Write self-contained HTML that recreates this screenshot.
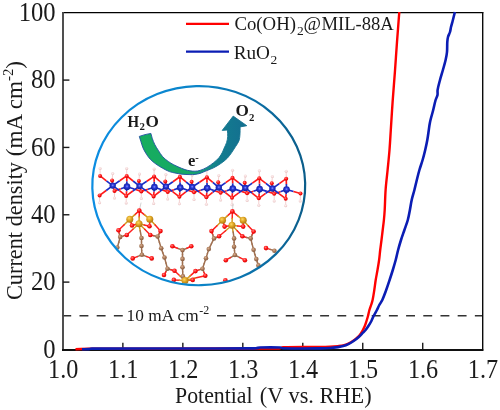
<!DOCTYPE html>
<html><head><meta charset="utf-8"><style>
html,body{margin:0;padding:0;background:#fff;width:500px;height:410px;overflow:hidden}
svg{display:block;will-change:transform}
text{font-family:"Liberation Serif",serif;fill:#1a1a1a}
</style></head><body>
<svg width="500" height="410" viewBox="0 0 500 410">
<rect width="500" height="410" fill="#fff"/>
<defs><linearGradient id="eg" x1="92" y1="0" x2="305" y2="0" gradientUnits="userSpaceOnUse"><stop offset="0" stop-color="#0c8de2"/><stop offset="0.5" stop-color="#0a84c8"/><stop offset="1" stop-color="#0b5d8a"/></linearGradient><linearGradient id="ag" x1="140" y1="0" x2="247" y2="0" gradientUnits="userSpaceOnUse"><stop offset="0" stop-color="#16ad5e"/><stop offset="0.45" stop-color="#16a866"/><stop offset="0.6" stop-color="#139580"/><stop offset="0.75" stop-color="#127c8f"/><stop offset="1" stop-color="#146e90"/></linearGradient><radialGradient id="gco" cx="0.5" cy="0.45" r="0.6"><stop offset="0" stop-color="#8890ff"/><stop offset="0.35" stop-color="#2a3ad8"/><stop offset="1" stop-color="#0c1890"/></radialGradient><radialGradient id="gfe" cx="0.4" cy="0.35" r="0.7"><stop offset="0" stop-color="#ffd860"/><stop offset="0.5" stop-color="#d9a020"/><stop offset="1" stop-color="#a87010"/></radialGradient><radialGradient id="go" cx="0.4" cy="0.35" r="0.7"><stop offset="0" stop-color="#ff8080"/><stop offset="0.5" stop-color="#ff1414"/><stop offset="1" stop-color="#d00000"/></radialGradient><radialGradient id="gc" cx="0.4" cy="0.35" r="0.7"><stop offset="0" stop-color="#d8b090"/><stop offset="0.5" stop-color="#a87858"/><stop offset="1" stop-color="#80573c"/></radialGradient><radialGradient id="gh" cx="0.45" cy="0.4" r="0.7"><stop offset="0" stop-color="#fff4f4"/><stop offset="0.6" stop-color="#f2d4d4"/><stop offset="1" stop-color="#dcb4b4"/></radialGradient><clipPath id="ec"><ellipse cx="198.75" cy="185.65" rx="105.95" ry="99.1" transform="rotate(-1.46 198.75 185.65)"/></clipPath></defs>
<g clip-path="url(#ec)">
<g stroke-width="1.65"><line x1="126.7" y1="175.9" x2="126.7" y2="168.4" stroke="#f4d0d0" stroke-width="1"/><line x1="126.2" y1="195.9" x2="126.2" y2="202.9" stroke="#f4d0d0" stroke-width="1"/><line x1="154.1" y1="176.4" x2="154.1" y2="168.9" stroke="#f4d0d0" stroke-width="1"/><line x1="153.6" y1="196.4" x2="153.6" y2="203.4" stroke="#f4d0d0" stroke-width="1"/><line x1="179.9" y1="176.8" x2="179.9" y2="169.3" stroke="#f4d0d0" stroke-width="1"/><line x1="179.4" y1="196.8" x2="179.4" y2="203.8" stroke="#f4d0d0" stroke-width="1"/><line x1="206.9" y1="177.3" x2="206.9" y2="169.8" stroke="#f4d0d0" stroke-width="1"/><line x1="206.4" y1="197.3" x2="206.4" y2="204.3" stroke="#f4d0d0" stroke-width="1"/><line x1="232.5" y1="177.8" x2="232.5" y2="170.3" stroke="#f4d0d0" stroke-width="1"/><line x1="232.0" y1="197.8" x2="232.0" y2="204.8" stroke="#f4d0d0" stroke-width="1"/><line x1="259.3" y1="178.3" x2="259.3" y2="170.8" stroke="#f4d0d0" stroke-width="1"/><line x1="258.8" y1="198.3" x2="258.8" y2="205.3" stroke="#f4d0d0" stroke-width="1"/><line x1="286.2" y1="178.7" x2="286.2" y2="171.2" stroke="#f4d0d0" stroke-width="1"/><line x1="285.7" y1="198.7" x2="285.7" y2="205.7" stroke="#f4d0d0" stroke-width="1"/><line x1="112.1" y1="180.4" x2="112.7" y2="173.6" stroke="#f4d0d0" stroke-width="1"/><line x1="114.5" y1="190.9" x2="114.5" y2="198.1" stroke="#f4d0d0" stroke-width="1"/><line x1="138.9" y1="180.9" x2="139.5" y2="174.1" stroke="#f4d0d0" stroke-width="1"/><line x1="141.3" y1="191.4" x2="141.3" y2="198.6" stroke="#f4d0d0" stroke-width="1"/><line x1="165.3" y1="181.4" x2="165.9" y2="174.6" stroke="#f4d0d0" stroke-width="1"/><line x1="167.7" y1="191.9" x2="167.7" y2="199.1" stroke="#f4d0d0" stroke-width="1"/><line x1="191.6" y1="181.8" x2="192.2" y2="175.0" stroke="#f4d0d0" stroke-width="1"/><line x1="194.0" y1="192.3" x2="194.0" y2="199.5" stroke="#f4d0d0" stroke-width="1"/><line x1="218.2" y1="182.3" x2="218.8" y2="175.5" stroke="#f4d0d0" stroke-width="1"/><line x1="220.6" y1="192.8" x2="220.6" y2="200.0" stroke="#f4d0d0" stroke-width="1"/><line x1="244.7" y1="182.8" x2="245.3" y2="176.0" stroke="#f4d0d0" stroke-width="1"/><line x1="247.1" y1="193.3" x2="247.1" y2="200.5" stroke="#f4d0d0" stroke-width="1"/><line x1="271.8" y1="183.3" x2="272.4" y2="176.5" stroke="#f4d0d0" stroke-width="1"/><line x1="274.2" y1="193.8" x2="274.2" y2="201.0" stroke="#f4d0d0" stroke-width="1"/><line x1="100.1" y1="175.9" x2="100.1" y2="168.5" stroke="#f4d0d0" stroke-width="1"/><line x1="99.6" y1="195.4" x2="99.6" y2="202.7" stroke="#f4d0d0" stroke-width="1"/><line x1="300.5" y1="193.5" x2="300.2" y2="201.0" stroke="#f4d0d0" stroke-width="1"/><line x1="127.0" y1="186.7" x2="126.8" y2="181.3" stroke="#1a2cc8"/><line x1="126.8" y1="181.3" x2="126.7" y2="175.9" stroke="#ff1a1a"/><line x1="127.0" y1="186.7" x2="126.6" y2="191.3" stroke="#1a2cc8"/><line x1="126.6" y1="191.3" x2="126.2" y2="195.9" stroke="#ff1a1a"/><line x1="127.0" y1="186.7" x2="120.8" y2="188.8" stroke="#1a2cc8"/><line x1="120.8" y1="188.8" x2="114.5" y2="190.9" stroke="#ff1a1a"/><line x1="127.0" y1="186.7" x2="134.2" y2="189.0" stroke="#1a2cc8"/><line x1="134.2" y1="189.0" x2="141.3" y2="191.4" stroke="#ff1a1a"/><line x1="154.4" y1="187.2" x2="154.2" y2="181.8" stroke="#1a2cc8"/><line x1="154.2" y1="181.8" x2="154.1" y2="176.4" stroke="#ff1a1a"/><line x1="154.4" y1="187.2" x2="154.0" y2="191.8" stroke="#1a2cc8"/><line x1="154.0" y1="191.8" x2="153.6" y2="196.4" stroke="#ff1a1a"/><line x1="154.4" y1="187.2" x2="147.9" y2="189.3" stroke="#1a2cc8"/><line x1="147.9" y1="189.3" x2="141.3" y2="191.4" stroke="#ff1a1a"/><line x1="154.4" y1="187.2" x2="161.1" y2="189.5" stroke="#1a2cc8"/><line x1="161.1" y1="189.5" x2="167.7" y2="191.9" stroke="#ff1a1a"/><line x1="180.2" y1="187.6" x2="180.0" y2="182.2" stroke="#1a2cc8"/><line x1="180.0" y1="182.2" x2="179.9" y2="176.8" stroke="#ff1a1a"/><line x1="180.2" y1="187.6" x2="179.8" y2="192.2" stroke="#1a2cc8"/><line x1="179.8" y1="192.2" x2="179.4" y2="196.8" stroke="#ff1a1a"/><line x1="180.2" y1="187.6" x2="173.9" y2="189.7" stroke="#1a2cc8"/><line x1="173.9" y1="189.7" x2="167.7" y2="191.9" stroke="#ff1a1a"/><line x1="180.2" y1="187.6" x2="187.1" y2="190.0" stroke="#1a2cc8"/><line x1="187.1" y1="190.0" x2="194.0" y2="192.3" stroke="#ff1a1a"/><line x1="207.2" y1="188.1" x2="207.0" y2="182.7" stroke="#1a2cc8"/><line x1="207.0" y1="182.7" x2="206.9" y2="177.3" stroke="#ff1a1a"/><line x1="207.2" y1="188.1" x2="206.8" y2="192.7" stroke="#1a2cc8"/><line x1="206.8" y1="192.7" x2="206.4" y2="197.3" stroke="#ff1a1a"/><line x1="207.2" y1="188.1" x2="200.6" y2="190.2" stroke="#1a2cc8"/><line x1="200.6" y1="190.2" x2="194.0" y2="192.3" stroke="#ff1a1a"/><line x1="207.2" y1="188.1" x2="213.9" y2="190.5" stroke="#1a2cc8"/><line x1="213.9" y1="190.5" x2="220.6" y2="192.8" stroke="#ff1a1a"/><line x1="232.8" y1="188.6" x2="232.7" y2="183.2" stroke="#1a2cc8"/><line x1="232.7" y1="183.2" x2="232.5" y2="177.8" stroke="#ff1a1a"/><line x1="232.8" y1="188.6" x2="232.4" y2="193.2" stroke="#1a2cc8"/><line x1="232.4" y1="193.2" x2="232.0" y2="197.8" stroke="#ff1a1a"/><line x1="232.8" y1="188.6" x2="226.7" y2="190.7" stroke="#1a2cc8"/><line x1="226.7" y1="190.7" x2="220.6" y2="192.8" stroke="#ff1a1a"/><line x1="232.8" y1="188.6" x2="240.0" y2="190.9" stroke="#1a2cc8"/><line x1="240.0" y1="190.9" x2="247.1" y2="193.3" stroke="#ff1a1a"/><line x1="259.6" y1="189.1" x2="259.5" y2="183.7" stroke="#1a2cc8"/><line x1="259.5" y1="183.7" x2="259.3" y2="178.3" stroke="#ff1a1a"/><line x1="259.6" y1="189.1" x2="259.2" y2="193.7" stroke="#1a2cc8"/><line x1="259.2" y1="193.7" x2="258.8" y2="198.3" stroke="#ff1a1a"/><line x1="259.6" y1="189.1" x2="253.4" y2="191.2" stroke="#1a2cc8"/><line x1="253.4" y1="191.2" x2="247.1" y2="193.3" stroke="#ff1a1a"/><line x1="259.6" y1="189.1" x2="266.9" y2="191.4" stroke="#1a2cc8"/><line x1="266.9" y1="191.4" x2="274.2" y2="193.8" stroke="#ff1a1a"/><line x1="286.5" y1="189.5" x2="286.4" y2="184.1" stroke="#1a2cc8"/><line x1="286.4" y1="184.1" x2="286.2" y2="178.7" stroke="#ff1a1a"/><line x1="286.5" y1="189.5" x2="286.1" y2="194.1" stroke="#1a2cc8"/><line x1="286.1" y1="194.1" x2="285.7" y2="198.7" stroke="#ff1a1a"/><line x1="286.5" y1="189.5" x2="280.4" y2="191.7" stroke="#1a2cc8"/><line x1="280.4" y1="191.7" x2="274.2" y2="193.8" stroke="#ff1a1a"/><line x1="286.5" y1="189.5" x2="293.5" y2="191.5" stroke="#1a2cc8"/><line x1="293.5" y1="191.5" x2="300.5" y2="193.5" stroke="#ff1a1a"/><line x1="112.7" y1="185.6" x2="119.7" y2="180.7" stroke="#1a2cc8"/><line x1="119.7" y1="180.7" x2="126.7" y2="175.9" stroke="#ff1a1a"/><line x1="112.7" y1="185.6" x2="119.5" y2="190.7" stroke="#1a2cc8"/><line x1="119.5" y1="190.7" x2="126.2" y2="195.9" stroke="#ff1a1a"/><line x1="112.7" y1="185.6" x2="112.4" y2="183.0" stroke="#1a2cc8"/><line x1="112.4" y1="183.0" x2="112.1" y2="180.4" stroke="#ff1a1a"/><line x1="112.7" y1="185.6" x2="113.6" y2="188.3" stroke="#1a2cc8"/><line x1="113.6" y1="188.3" x2="114.5" y2="190.9" stroke="#ff1a1a"/><line x1="112.7" y1="185.6" x2="106.4" y2="180.8" stroke="#1a2cc8"/><line x1="106.4" y1="180.8" x2="100.1" y2="175.9" stroke="#ff1a1a"/><line x1="112.7" y1="185.6" x2="106.2" y2="190.5" stroke="#1a2cc8"/><line x1="106.2" y1="190.5" x2="99.6" y2="195.4" stroke="#ff1a1a"/><line x1="139.5" y1="186.1" x2="133.1" y2="181.0" stroke="#1a2cc8"/><line x1="133.1" y1="181.0" x2="126.7" y2="175.9" stroke="#ff1a1a"/><line x1="139.5" y1="186.1" x2="132.8" y2="191.0" stroke="#1a2cc8"/><line x1="132.8" y1="191.0" x2="126.2" y2="195.9" stroke="#ff1a1a"/><line x1="139.5" y1="186.1" x2="146.8" y2="181.2" stroke="#1a2cc8"/><line x1="146.8" y1="181.2" x2="154.1" y2="176.4" stroke="#ff1a1a"/><line x1="139.5" y1="186.1" x2="146.6" y2="191.2" stroke="#1a2cc8"/><line x1="146.6" y1="191.2" x2="153.6" y2="196.4" stroke="#ff1a1a"/><line x1="139.5" y1="186.1" x2="139.2" y2="183.5" stroke="#1a2cc8"/><line x1="139.2" y1="183.5" x2="138.9" y2="180.9" stroke="#ff1a1a"/><line x1="139.5" y1="186.1" x2="140.4" y2="188.7" stroke="#1a2cc8"/><line x1="140.4" y1="188.7" x2="141.3" y2="191.4" stroke="#ff1a1a"/><line x1="165.9" y1="186.6" x2="160.0" y2="181.5" stroke="#1a2cc8"/><line x1="160.0" y1="181.5" x2="154.1" y2="176.4" stroke="#ff1a1a"/><line x1="165.9" y1="186.6" x2="159.8" y2="191.5" stroke="#1a2cc8"/><line x1="159.8" y1="191.5" x2="153.6" y2="196.4" stroke="#ff1a1a"/><line x1="165.9" y1="186.6" x2="172.9" y2="181.7" stroke="#1a2cc8"/><line x1="172.9" y1="181.7" x2="179.9" y2="176.8" stroke="#ff1a1a"/><line x1="165.9" y1="186.6" x2="172.6" y2="191.7" stroke="#1a2cc8"/><line x1="172.6" y1="191.7" x2="179.4" y2="196.8" stroke="#ff1a1a"/><line x1="165.9" y1="186.6" x2="165.6" y2="184.0" stroke="#1a2cc8"/><line x1="165.6" y1="184.0" x2="165.3" y2="181.4" stroke="#ff1a1a"/><line x1="165.9" y1="186.6" x2="166.8" y2="189.2" stroke="#1a2cc8"/><line x1="166.8" y1="189.2" x2="167.7" y2="191.9" stroke="#ff1a1a"/><line x1="192.2" y1="187.0" x2="186.0" y2="181.9" stroke="#1a2cc8"/><line x1="186.0" y1="181.9" x2="179.9" y2="176.8" stroke="#ff1a1a"/><line x1="192.2" y1="187.0" x2="185.8" y2="191.9" stroke="#1a2cc8"/><line x1="185.8" y1="191.9" x2="179.4" y2="196.8" stroke="#ff1a1a"/><line x1="192.2" y1="187.0" x2="199.5" y2="182.2" stroke="#1a2cc8"/><line x1="199.5" y1="182.2" x2="206.9" y2="177.3" stroke="#ff1a1a"/><line x1="192.2" y1="187.0" x2="199.3" y2="192.2" stroke="#1a2cc8"/><line x1="199.3" y1="192.2" x2="206.4" y2="197.3" stroke="#ff1a1a"/><line x1="192.2" y1="187.0" x2="191.9" y2="184.4" stroke="#1a2cc8"/><line x1="191.9" y1="184.4" x2="191.6" y2="181.8" stroke="#ff1a1a"/><line x1="192.2" y1="187.0" x2="193.1" y2="189.7" stroke="#1a2cc8"/><line x1="193.1" y1="189.7" x2="194.0" y2="192.3" stroke="#ff1a1a"/><line x1="218.8" y1="187.5" x2="212.8" y2="182.4" stroke="#1a2cc8"/><line x1="212.8" y1="182.4" x2="206.9" y2="177.3" stroke="#ff1a1a"/><line x1="218.8" y1="187.5" x2="212.6" y2="192.4" stroke="#1a2cc8"/><line x1="212.6" y1="192.4" x2="206.4" y2="197.3" stroke="#ff1a1a"/><line x1="218.8" y1="187.5" x2="225.7" y2="182.6" stroke="#1a2cc8"/><line x1="225.7" y1="182.6" x2="232.5" y2="177.8" stroke="#ff1a1a"/><line x1="218.8" y1="187.5" x2="225.4" y2="192.6" stroke="#1a2cc8"/><line x1="225.4" y1="192.6" x2="232.0" y2="197.8" stroke="#ff1a1a"/><line x1="218.8" y1="187.5" x2="218.5" y2="184.9" stroke="#1a2cc8"/><line x1="218.5" y1="184.9" x2="218.2" y2="182.3" stroke="#ff1a1a"/><line x1="218.8" y1="187.5" x2="219.7" y2="190.2" stroke="#1a2cc8"/><line x1="219.7" y1="190.2" x2="220.6" y2="192.8" stroke="#ff1a1a"/><line x1="245.3" y1="188.0" x2="238.9" y2="182.9" stroke="#1a2cc8"/><line x1="238.9" y1="182.9" x2="232.5" y2="177.8" stroke="#ff1a1a"/><line x1="245.3" y1="188.0" x2="238.7" y2="192.9" stroke="#1a2cc8"/><line x1="238.7" y1="192.9" x2="232.0" y2="197.8" stroke="#ff1a1a"/><line x1="245.3" y1="188.0" x2="252.3" y2="183.1" stroke="#1a2cc8"/><line x1="252.3" y1="183.1" x2="259.3" y2="178.3" stroke="#ff1a1a"/><line x1="245.3" y1="188.0" x2="252.1" y2="193.1" stroke="#1a2cc8"/><line x1="252.1" y1="193.1" x2="258.8" y2="198.3" stroke="#ff1a1a"/><line x1="245.3" y1="188.0" x2="245.0" y2="185.4" stroke="#1a2cc8"/><line x1="245.0" y1="185.4" x2="244.7" y2="182.8" stroke="#ff1a1a"/><line x1="245.3" y1="188.0" x2="246.2" y2="190.6" stroke="#1a2cc8"/><line x1="246.2" y1="190.6" x2="247.1" y2="193.3" stroke="#ff1a1a"/><line x1="272.4" y1="188.5" x2="265.9" y2="183.4" stroke="#1a2cc8"/><line x1="265.9" y1="183.4" x2="259.3" y2="178.3" stroke="#ff1a1a"/><line x1="272.4" y1="188.5" x2="265.6" y2="193.4" stroke="#1a2cc8"/><line x1="265.6" y1="193.4" x2="258.8" y2="198.3" stroke="#ff1a1a"/><line x1="272.4" y1="188.5" x2="279.3" y2="183.6" stroke="#1a2cc8"/><line x1="279.3" y1="183.6" x2="286.2" y2="178.7" stroke="#ff1a1a"/><line x1="272.4" y1="188.5" x2="279.0" y2="193.6" stroke="#1a2cc8"/><line x1="279.0" y1="193.6" x2="285.7" y2="198.7" stroke="#ff1a1a"/><line x1="272.4" y1="188.5" x2="272.1" y2="185.9" stroke="#1a2cc8"/><line x1="272.1" y1="185.9" x2="271.8" y2="183.3" stroke="#ff1a1a"/><line x1="272.4" y1="188.5" x2="273.3" y2="191.1" stroke="#1a2cc8"/><line x1="273.3" y1="191.1" x2="274.2" y2="193.8" stroke="#ff1a1a"/></g>
<g fill="url(#gh)"><circle cx="126.7" cy="168.4" r="1.5"/><circle cx="126.2" cy="202.9" r="1.5"/><circle cx="154.1" cy="168.9" r="1.5"/><circle cx="153.6" cy="203.4" r="1.5"/><circle cx="179.9" cy="169.3" r="1.5"/><circle cx="179.4" cy="203.8" r="1.5"/><circle cx="206.9" cy="169.8" r="1.5"/><circle cx="206.4" cy="204.3" r="1.5"/><circle cx="232.5" cy="170.3" r="1.5"/><circle cx="232.0" cy="204.8" r="1.5"/><circle cx="259.3" cy="170.8" r="1.5"/><circle cx="258.8" cy="205.3" r="1.5"/><circle cx="286.2" cy="171.2" r="1.5"/><circle cx="285.7" cy="205.7" r="1.5"/><circle cx="112.7" cy="173.6" r="1.5"/><circle cx="114.5" cy="198.1" r="1.5"/><circle cx="139.5" cy="174.1" r="1.5"/><circle cx="141.3" cy="198.6" r="1.5"/><circle cx="165.9" cy="174.6" r="1.5"/><circle cx="167.7" cy="199.1" r="1.5"/><circle cx="192.2" cy="175.0" r="1.5"/><circle cx="194.0" cy="199.5" r="1.5"/><circle cx="218.8" cy="175.5" r="1.5"/><circle cx="220.6" cy="200.0" r="1.5"/><circle cx="245.3" cy="176.0" r="1.5"/><circle cx="247.1" cy="200.5" r="1.5"/><circle cx="272.4" cy="176.5" r="1.5"/><circle cx="274.2" cy="201.0" r="1.5"/><circle cx="100.1" cy="168.5" r="1.5"/><circle cx="99.6" cy="202.7" r="1.5"/><circle cx="300.2" cy="201.0" r="1.5"/></g>
<g fill="url(#go)"><circle cx="126.7" cy="175.9" r="2.0"/><circle cx="126.2" cy="195.9" r="2.0"/><circle cx="154.1" cy="176.4" r="2.0"/><circle cx="153.6" cy="196.4" r="2.0"/><circle cx="179.9" cy="176.8" r="2.0"/><circle cx="179.4" cy="196.8" r="2.0"/><circle cx="206.9" cy="177.3" r="2.0"/><circle cx="206.4" cy="197.3" r="2.0"/><circle cx="232.5" cy="177.8" r="2.0"/><circle cx="232.0" cy="197.8" r="2.0"/><circle cx="259.3" cy="178.3" r="2.0"/><circle cx="258.8" cy="198.3" r="2.0"/><circle cx="286.2" cy="178.7" r="2.0"/><circle cx="285.7" cy="198.7" r="2.0"/><circle cx="112.1" cy="180.4" r="2.0"/><circle cx="114.5" cy="190.9" r="2.0"/><circle cx="138.9" cy="180.9" r="2.0"/><circle cx="141.3" cy="191.4" r="2.0"/><circle cx="165.3" cy="181.4" r="2.0"/><circle cx="167.7" cy="191.9" r="2.0"/><circle cx="191.6" cy="181.8" r="2.0"/><circle cx="194.0" cy="192.3" r="2.0"/><circle cx="218.2" cy="182.3" r="2.0"/><circle cx="220.6" cy="192.8" r="2.0"/><circle cx="244.7" cy="182.8" r="2.0"/><circle cx="247.1" cy="193.3" r="2.0"/><circle cx="271.8" cy="183.3" r="2.0"/><circle cx="274.2" cy="193.8" r="2.0"/><circle cx="100.1" cy="175.9" r="2.0"/><circle cx="99.6" cy="195.4" r="2.0"/><circle cx="300.5" cy="193.5" r="2.0"/></g>
<g fill="url(#gco)"><circle cx="127.0" cy="186.7" r="3.35"/><circle cx="154.4" cy="187.2" r="3.35"/><circle cx="180.2" cy="187.6" r="3.35"/><circle cx="207.2" cy="188.1" r="3.35"/><circle cx="232.8" cy="188.6" r="3.35"/><circle cx="259.6" cy="189.1" r="3.35"/><circle cx="286.5" cy="189.5" r="3.35"/><circle cx="112.7" cy="185.6" r="3.15"/><circle cx="139.5" cy="186.1" r="3.15"/><circle cx="165.9" cy="186.6" r="3.15"/><circle cx="192.2" cy="187.0" r="3.15"/><circle cx="218.8" cy="187.5" r="3.15"/><circle cx="245.3" cy="188.0" r="3.15"/><circle cx="272.4" cy="188.5" r="3.15"/></g>
<g stroke-width="1.5" stroke-linecap="round"><line x1="139.3" y1="210.6" x2="134.6" y2="214.9" stroke="#ff2020"/><line x1="134.6" y1="214.9" x2="129.8" y2="219.2" stroke="#d49a20"/><line x1="139.3" y1="210.6" x2="139.2" y2="217.1" stroke="#ff2020"/><line x1="139.2" y1="217.1" x2="139.0" y2="223.7" stroke="#d49a20"/><line x1="139.3" y1="210.6" x2="144.6" y2="214.9" stroke="#ff2020"/><line x1="144.6" y1="214.9" x2="149.8" y2="219.2" stroke="#d49a20"/><line x1="129.8" y1="219.2" x2="124.2" y2="224.7" stroke="#d49a20"/><line x1="124.2" y1="224.7" x2="118.5" y2="230.2" stroke="#ff2020"/><line x1="139.0" y1="223.7" x2="132.9" y2="229.3" stroke="#d49a20"/><line x1="132.9" y1="229.3" x2="126.8" y2="235.0" stroke="#ff2020"/><line x1="129.8" y1="219.2" x2="130.9" y2="222.3" stroke="#d49a20"/><line x1="130.9" y1="222.3" x2="132.0" y2="225.5" stroke="#ff2020"/><line x1="139.0" y1="223.7" x2="135.5" y2="224.6" stroke="#d49a20"/><line x1="135.5" y1="224.6" x2="132.0" y2="225.5" stroke="#ff2020"/><line x1="149.8" y1="219.2" x2="149.7" y2="222.7" stroke="#d49a20"/><line x1="149.7" y1="222.7" x2="149.5" y2="226.2" stroke="#ff2020"/><line x1="139.0" y1="223.7" x2="144.2" y2="224.9" stroke="#d49a20"/><line x1="144.2" y1="224.9" x2="149.5" y2="226.2" stroke="#ff2020"/><line x1="139.0" y1="223.7" x2="144.7" y2="229.3" stroke="#d49a20"/><line x1="144.7" y1="229.3" x2="150.3" y2="235.0" stroke="#ff2020"/><line x1="149.8" y1="219.2" x2="155.2" y2="225.1" stroke="#d49a20"/><line x1="155.2" y1="225.1" x2="160.5" y2="231.1" stroke="#ff2020"/><line x1="118.5" y1="230.2" x2="119.3" y2="233.6" stroke="#ff2020"/><line x1="119.3" y1="233.6" x2="120.2" y2="236.9" stroke="#a07050"/><line x1="126.8" y1="235.0" x2="123.5" y2="235.9" stroke="#ff2020"/><line x1="123.5" y1="235.9" x2="120.2" y2="236.9" stroke="#a07050"/><line x1="120.2" y1="236.9" x2="118.8" y2="242.2" stroke="#a07050"/><line x1="118.8" y1="242.2" x2="117.3" y2="247.5" stroke="#a07050"/><line x1="139.0" y1="223.7" x2="140.2" y2="230.8" stroke="#d49a20"/><line x1="140.2" y1="230.8" x2="141.5" y2="238.0" stroke="#a07050"/><line x1="141.5" y1="238.0" x2="141.5" y2="242.0" stroke="#a07050"/><line x1="141.5" y1="242.0" x2="141.5" y2="246.0" stroke="#a07050"/><line x1="141.5" y1="246.0" x2="141.7" y2="250.4" stroke="#a07050"/><line x1="141.7" y1="250.4" x2="141.9" y2="254.8" stroke="#a07050"/><line x1="141.9" y1="254.8" x2="137.3" y2="256.6" stroke="#a07050"/><line x1="137.3" y1="256.6" x2="132.7" y2="258.4" stroke="#ff2020"/><line x1="141.9" y1="254.8" x2="146.8" y2="256.6" stroke="#a07050"/><line x1="146.8" y1="256.6" x2="151.7" y2="258.4" stroke="#ff2020"/><line x1="150.3" y1="235.0" x2="153.9" y2="235.8" stroke="#ff2020"/><line x1="153.9" y1="235.8" x2="157.6" y2="236.5" stroke="#a07050"/><line x1="160.5" y1="231.1" x2="159.1" y2="233.8" stroke="#ff2020"/><line x1="159.1" y1="233.8" x2="157.6" y2="236.5" stroke="#a07050"/><line x1="157.6" y1="236.5" x2="159.4" y2="242.3" stroke="#a07050"/><line x1="159.4" y1="242.3" x2="161.2" y2="248.2" stroke="#a07050"/><line x1="161.2" y1="248.2" x2="162.8" y2="252.8" stroke="#a07050"/><line x1="162.8" y1="252.8" x2="164.5" y2="257.5" stroke="#a07050"/><line x1="164.5" y1="257.5" x2="166.0" y2="263.1" stroke="#a07050"/><line x1="166.0" y1="263.1" x2="167.5" y2="268.7" stroke="#a07050"/><line x1="167.5" y1="268.7" x2="171.0" y2="269.8" stroke="#a07050"/><line x1="171.0" y1="269.8" x2="174.5" y2="270.8" stroke="#ff2020"/><line x1="167.5" y1="268.7" x2="165.8" y2="271.9" stroke="#a07050"/><line x1="165.8" y1="271.9" x2="164.0" y2="275.0" stroke="#ff2020"/><line x1="174.5" y1="270.8" x2="179.8" y2="275.7" stroke="#ff2020"/><line x1="179.8" y1="275.7" x2="185.0" y2="280.6" stroke="#d49a20"/><line x1="173.8" y1="279.9" x2="179.4" y2="280.2" stroke="#ff2020"/><line x1="179.4" y1="280.2" x2="185.0" y2="280.6" stroke="#d49a20"/><line x1="182.5" y1="250.1" x2="177.4" y2="248.2" stroke="#a07050"/><line x1="177.4" y1="248.2" x2="172.4" y2="246.3" stroke="#ff2020"/><line x1="182.5" y1="250.1" x2="186.9" y2="248.2" stroke="#a07050"/><line x1="186.9" y1="248.2" x2="191.3" y2="246.3" stroke="#ff2020"/><line x1="182.5" y1="250.1" x2="182.5" y2="254.5" stroke="#a07050"/><line x1="182.5" y1="254.5" x2="182.5" y2="258.9" stroke="#a07050"/><line x1="182.5" y1="258.9" x2="182.5" y2="263.1" stroke="#a07050"/><line x1="182.5" y1="263.1" x2="182.5" y2="267.3" stroke="#a07050"/><line x1="182.5" y1="267.3" x2="182.7" y2="271.9" stroke="#a07050"/><line x1="182.7" y1="271.9" x2="182.9" y2="276.4" stroke="#a07050"/><line x1="182.9" y1="276.4" x2="183.9" y2="278.5" stroke="#a07050"/><line x1="183.9" y1="278.5" x2="185.0" y2="280.6" stroke="#d49a20"/><line x1="202.5" y1="268.7" x2="199.0" y2="269.9" stroke="#a07050"/><line x1="199.0" y1="269.9" x2="195.5" y2="271.1" stroke="#ff2020"/><line x1="202.5" y1="268.7" x2="203.9" y2="272.2" stroke="#a07050"/><line x1="203.9" y1="272.2" x2="205.3" y2="275.7" stroke="#ff2020"/><line x1="195.5" y1="271.1" x2="190.2" y2="275.9" stroke="#ff2020"/><line x1="190.2" y1="275.9" x2="185.0" y2="280.6" stroke="#d49a20"/><line x1="192.7" y1="279.9" x2="188.8" y2="280.2" stroke="#ff2020"/><line x1="188.8" y1="280.2" x2="185.0" y2="280.6" stroke="#d49a20"/><line x1="205.3" y1="275.7" x2="195.2" y2="278.1" stroke="#ff2020"/><line x1="195.2" y1="278.1" x2="185.0" y2="280.6" stroke="#d49a20"/><line x1="232.4" y1="211.4" x2="227.4" y2="215.9" stroke="#ff2020"/><line x1="227.4" y1="215.9" x2="222.5" y2="220.3" stroke="#d49a20"/><line x1="232.4" y1="211.4" x2="232.2" y2="218.4" stroke="#ff2020"/><line x1="232.2" y1="218.4" x2="232.0" y2="225.3" stroke="#d49a20"/><line x1="232.4" y1="211.4" x2="237.8" y2="215.9" stroke="#ff2020"/><line x1="237.8" y1="215.9" x2="243.2" y2="220.3" stroke="#d49a20"/><line x1="222.5" y1="220.3" x2="217.0" y2="225.7" stroke="#d49a20"/><line x1="217.0" y1="225.7" x2="211.5" y2="231.1" stroke="#ff2020"/><line x1="232.0" y1="225.3" x2="225.6" y2="230.8" stroke="#d49a20"/><line x1="225.6" y1="230.8" x2="219.1" y2="236.3" stroke="#ff2020"/><line x1="222.5" y1="220.3" x2="223.6" y2="223.4" stroke="#d49a20"/><line x1="223.6" y1="223.4" x2="224.6" y2="226.6" stroke="#ff2020"/><line x1="232.0" y1="225.3" x2="228.3" y2="225.9" stroke="#d49a20"/><line x1="228.3" y1="225.9" x2="224.6" y2="226.6" stroke="#ff2020"/><line x1="243.2" y1="220.3" x2="243.2" y2="223.4" stroke="#d49a20"/><line x1="243.2" y1="223.4" x2="243.2" y2="226.6" stroke="#ff2020"/><line x1="232.0" y1="225.3" x2="237.6" y2="225.9" stroke="#d49a20"/><line x1="237.6" y1="225.9" x2="243.2" y2="226.6" stroke="#ff2020"/><line x1="232.0" y1="225.3" x2="237.2" y2="230.8" stroke="#d49a20"/><line x1="237.2" y1="230.8" x2="242.4" y2="236.3" stroke="#ff2020"/><line x1="243.2" y1="220.3" x2="248.4" y2="225.9" stroke="#d49a20"/><line x1="248.4" y1="225.9" x2="253.6" y2="231.5" stroke="#ff2020"/><line x1="211.5" y1="231.1" x2="212.8" y2="234.8" stroke="#ff2020"/><line x1="212.8" y1="234.8" x2="214.0" y2="238.4" stroke="#a07050"/><line x1="219.1" y1="236.3" x2="216.6" y2="237.4" stroke="#ff2020"/><line x1="216.6" y1="237.4" x2="214.0" y2="238.4" stroke="#a07050"/><line x1="214.0" y1="238.4" x2="211.4" y2="243.8" stroke="#a07050"/><line x1="211.4" y1="243.8" x2="208.8" y2="249.1" stroke="#a07050"/><line x1="208.8" y1="249.1" x2="207.4" y2="253.6" stroke="#a07050"/><line x1="207.4" y1="253.6" x2="206.0" y2="258.2" stroke="#a07050"/><line x1="206.0" y1="258.2" x2="204.2" y2="263.4" stroke="#a07050"/><line x1="204.2" y1="263.4" x2="202.5" y2="268.7" stroke="#a07050"/><line x1="232.0" y1="225.3" x2="233.1" y2="231.9" stroke="#d49a20"/><line x1="233.1" y1="231.9" x2="234.1" y2="238.4" stroke="#a07050"/><line x1="234.1" y1="238.4" x2="234.1" y2="242.6" stroke="#a07050"/><line x1="234.1" y1="242.6" x2="234.1" y2="246.7" stroke="#a07050"/><line x1="234.1" y1="246.7" x2="234.5" y2="250.8" stroke="#a07050"/><line x1="234.5" y1="250.8" x2="234.9" y2="255.0" stroke="#a07050"/><line x1="234.9" y1="255.0" x2="230.4" y2="257.6" stroke="#a07050"/><line x1="230.4" y1="257.6" x2="225.8" y2="260.2" stroke="#ff2020"/><line x1="234.9" y1="255.0" x2="239.9" y2="257.6" stroke="#a07050"/><line x1="239.9" y1="257.6" x2="244.9" y2="260.2" stroke="#ff2020"/><line x1="242.4" y1="236.3" x2="246.6" y2="237.4" stroke="#ff2020"/><line x1="246.6" y1="237.4" x2="250.7" y2="238.4" stroke="#a07050"/><line x1="253.6" y1="231.5" x2="252.1" y2="234.9" stroke="#ff2020"/><line x1="252.1" y1="234.9" x2="250.7" y2="238.4" stroke="#a07050"/><line x1="250.7" y1="238.4" x2="252.1" y2="244.1" stroke="#a07050"/><line x1="252.1" y1="244.1" x2="253.6" y2="249.8" stroke="#a07050"/><line x1="253.6" y1="249.8" x2="254.9" y2="254.5" stroke="#a07050"/><line x1="254.9" y1="254.5" x2="256.3" y2="259.1" stroke="#a07050"/><line x1="256.3" y1="259.1" x2="257.4" y2="262.2" stroke="#a07050"/><line x1="257.4" y1="262.2" x2="258.4" y2="265.4" stroke="#a07050"/><line x1="266.0" y1="248.1" x2="270.2" y2="249.4" stroke="#ff2020"/><line x1="270.2" y1="249.4" x2="274.4" y2="250.8" stroke="#a07050"/><line x1="139.3" y1="210.6" x2="141" y2="203" stroke="#c8c8c8" stroke-width="0.8"/><line x1="232.4" y1="211.4" x2="233" y2="204" stroke="#c8c8c8" stroke-width="0.8"/></g>
<g fill="url(#gc)"><circle cx="120.2" cy="236.9" r="2.3"/><circle cx="117.3" cy="247.5" r="2.3"/><circle cx="141.5" cy="238.0" r="2.3"/><circle cx="141.5" cy="246.0" r="2.3"/><circle cx="141.9" cy="254.8" r="2.3"/><circle cx="157.6" cy="236.5" r="2.3"/><circle cx="161.2" cy="248.2" r="2.3"/><circle cx="164.5" cy="257.5" r="2.3"/><circle cx="167.5" cy="268.7" r="2.3"/><circle cx="182.5" cy="250.1" r="2.3"/><circle cx="182.5" cy="258.9" r="2.3"/><circle cx="182.5" cy="267.3" r="2.3"/><circle cx="182.9" cy="276.4" r="2.3"/><circle cx="214.0" cy="238.4" r="2.3"/><circle cx="208.8" cy="249.1" r="2.3"/><circle cx="206.0" cy="258.2" r="2.3"/><circle cx="202.5" cy="268.7" r="2.3"/><circle cx="234.1" cy="238.4" r="2.3"/><circle cx="234.1" cy="246.7" r="2.3"/><circle cx="234.9" cy="255.0" r="2.3"/><circle cx="250.7" cy="238.4" r="2.3"/><circle cx="253.6" cy="249.8" r="2.3"/><circle cx="256.3" cy="259.1" r="2.3"/><circle cx="258.4" cy="265.4" r="2.3"/><circle cx="274.4" cy="250.8" r="2.3"/></g>
<g fill="url(#go)"><circle cx="139.3" cy="210.6" r="2.3"/><circle cx="132.0" cy="225.5" r="2.3"/><circle cx="149.5" cy="226.2" r="2.3"/><circle cx="118.5" cy="230.2" r="2.3"/><circle cx="126.8" cy="235.0" r="2.3"/><circle cx="150.3" cy="235.0" r="2.3"/><circle cx="160.5" cy="231.1" r="2.3"/><circle cx="132.7" cy="258.4" r="2.3"/><circle cx="151.7" cy="258.4" r="2.3"/><circle cx="174.5" cy="270.8" r="2.3"/><circle cx="164.0" cy="275.0" r="2.3"/><circle cx="173.8" cy="279.9" r="2.3"/><circle cx="172.4" cy="246.3" r="2.3"/><circle cx="191.3" cy="246.3" r="2.3"/><circle cx="195.5" cy="271.1" r="2.3"/><circle cx="205.3" cy="275.7" r="2.3"/><circle cx="192.7" cy="279.9" r="2.3"/><circle cx="232.4" cy="211.4" r="2.3"/><circle cx="224.6" cy="226.6" r="2.3"/><circle cx="243.2" cy="226.6" r="2.3"/><circle cx="211.5" cy="231.1" r="2.3"/><circle cx="219.1" cy="236.3" r="2.3"/><circle cx="242.4" cy="236.3" r="2.3"/><circle cx="253.6" cy="231.5" r="2.3"/><circle cx="225.8" cy="260.2" r="2.3"/><circle cx="244.9" cy="260.2" r="2.3"/><circle cx="266.0" cy="248.1" r="2.3"/><circle cx="225.4" cy="280.2" r="2.3"/></g>
<g fill="url(#gfe)"><circle cx="129.8" cy="219.2" r="3.5"/><circle cx="139.0" cy="223.7" r="3.5"/><circle cx="149.8" cy="219.2" r="3.5"/><circle cx="185.0" cy="280.6" r="3.5"/><circle cx="222.5" cy="220.3" r="3.5"/><circle cx="232.0" cy="225.3" r="3.5"/><circle cx="243.2" cy="220.3" r="3.5"/></g>
</g>
<defs><linearGradient id="as" x1="140" y1="0" x2="247" y2="0" gradientUnits="userSpaceOnUse"><stop offset="0" stop-color="#1f4fa0"/><stop offset="0.6" stop-color="#1f52a0"/><stop offset="0.75" stop-color="#137690"/><stop offset="1" stop-color="#14708e"/></linearGradient></defs>
<path d="M139.3,136.4 C139.80,138.00 140.29,139.60 140.80,141.20 C141.52,143.44 142.07,145.75 143.00,147.90 C143.93,150.05 145.13,152.12 146.40,154.10 C147.57,155.92 148.81,157.75 150.30,159.30 C151.98,161.05 153.93,162.57 155.90,164.00 C158.03,165.54 160.31,166.91 162.60,168.20 C164.81,169.44 167.04,170.72 169.40,171.60 C171.51,172.39 173.78,172.74 176.00,173.20 C177.98,173.61 179.99,174.00 182.00,174.20 C184.65,174.47 187.33,174.56 190.00,174.60 C191.67,174.63 193.35,174.60 195.00,174.40 C196.68,174.20 198.39,173.92 200.00,173.40 C202.32,172.65 204.53,171.53 206.80,170.60 C209.07,169.67 211.42,168.90 213.60,167.80 C215.98,166.60 218.31,165.23 220.50,163.70 C222.88,162.03 225.26,160.26 227.30,158.20 C229.09,156.39 230.52,154.19 232.00,152.10 C233.28,150.29 234.44,148.39 235.60,146.50 C236.77,144.59 238.27,142.78 239.00,140.70 C239.74,138.58 239.82,136.18 240.00,133.90 C240.19,131.58 240.07,129.23 240.10,126.90 L246.8,125.7 L233.2,116.1 L222.2,130.4 L227.4,130 C227.50,132.20 227.84,134.42 227.70,136.60 C227.57,138.58 227.18,140.60 226.60,142.50 C226.02,144.40 224.99,146.16 224.20,148.00 C223.62,149.36 223.19,150.80 222.50,152.10 C221.49,154.00 220.47,155.96 219.10,157.60 C217.51,159.50 215.55,161.15 213.60,162.70 C211.45,164.41 209.19,166.05 206.80,167.40 C204.65,168.62 202.34,169.65 200.00,170.40 C198.41,170.91 196.67,171.13 195.00,171.20 C193.34,171.27 191.65,171.06 190.00,170.80 C188.31,170.53 186.62,170.14 185.00,169.60 C182.62,168.81 180.31,167.79 178.00,166.80 C176.58,166.19 175.16,165.55 173.80,164.80 C171.89,163.75 169.96,162.69 168.20,161.40 C166.22,159.95 164.22,158.42 162.60,156.60 C160.89,154.69 159.61,152.37 158.20,150.20 C157.01,148.37 155.77,146.55 154.80,144.60 C153.77,142.55 152.96,140.37 152.20,138.20 C151.66,136.64 151.33,135.00 150.90,133.40 C147,134 143,135 139.3,136.4 Z" fill="url(#ag)" stroke="url(#as)" stroke-width="0.9" stroke-linejoin="round"/>
<ellipse cx="198.75" cy="185.65" rx="106.45" ry="99.6" transform="rotate(-1.46 198.75 185.65)" fill="none" stroke="url(#eg)" stroke-width="2.2"/>
<g font-family="Liberation Serif" font-weight="bold" fill="#111"><text x="127.6" y="126.7" font-size="17.2" textLength="11.6" lengthAdjust="spacingAndGlyphs">H</text><text x="139.4" y="130.2" font-size="10.8">2</text><text x="145.6" y="126.7" font-size="17.2" textLength="13.4" lengthAdjust="spacingAndGlyphs">O</text><text x="235.4" y="116" font-size="17.2" textLength="13.4" lengthAdjust="spacingAndGlyphs">O</text><text x="249" y="120.6" font-size="10.8">2</text><text x="188" y="165.6" font-size="16.5">e<tspan dy="-5" font-size="10.5">-</tspan></text></g>
<!-- dashed 10 mA line -->
<line x1="62.3" y1="315.8" x2="482" y2="315.8" stroke="#333" stroke-width="1.6" stroke-dasharray="8.9 8.29"/>
<rect x="124" y="305" width="90" height="20" fill="#fff"/>
<text x="126.6" y="320.8" font-size="16.3" textLength="72" lengthAdjust="spacingAndGlyphs">10 mA cm</text><text x="199.3" y="314" font-size="11.5" textLength="10" lengthAdjust="spacingAndGlyphs">-2</text>
<!-- frame -->
<g stroke="#111" fill="none">
<line x1="62" y1="12.5" x2="483.3" y2="12.5" stroke-width="1.25" stroke="#000"/>
<line x1="63" y1="12" x2="63" y2="350.8" stroke-width="1.9" stroke="#474747"/>
<line x1="62" y1="350" x2="483.3" y2="350" stroke-width="1.8"/>
<line x1="482.7" y1="12" x2="482.7" y2="350.8" stroke-width="1.4" stroke="#0a0a0a"/>
</g>
<g stroke="#1a1a1a" stroke-width="1.4"><line x1="122.87" y1="349" x2="122.87" y2="342.8" /><line x1="182.84" y1="349" x2="182.84" y2="342.8" /><line x1="242.81" y1="349" x2="242.81" y2="342.8" /><line x1="302.78" y1="349" x2="302.78" y2="342.8" /><line x1="362.75" y1="349" x2="362.75" y2="342.8" /><line x1="422.72" y1="349" x2="422.72" y2="342.8" /><line x1="63" y1="282.11" x2="69.4" y2="282.11" /><line x1="63" y1="214.77" x2="69.4" y2="214.77" /><line x1="63" y1="147.43" x2="69.4" y2="147.43" /><line x1="63" y1="80.09" x2="69.4" y2="80.09" /></g>
<!-- curves -->
<path d="M75.50,349.20 C80.33,349.07 85.17,348.84 90.00,348.80 C110.00,348.64 130.00,348.64 150.00,348.60 C186.00,348.54 222.00,348.53 258.00,348.50 C265.00,348.49 272.05,348.83 279.00,348.50 C280.38,348.43 281.61,347.35 283.00,347.30 C295.28,346.85 307.67,347.16 320.00,347.00 C323.33,346.96 326.67,346.87 330.00,346.70 C332.67,346.57 335.34,346.36 338.00,346.10 C339.74,345.93 341.51,345.81 343.20,345.40 C344.97,344.97 346.74,344.37 348.40,343.60 C350.21,342.77 351.95,341.72 353.60,340.60 C354.81,339.78 355.89,338.76 357.00,337.80 C357.75,337.16 358.60,336.58 359.20,335.80 C360.36,334.31 361.36,332.65 362.30,331.00 C363.22,329.38 364.08,327.71 364.80,326.00 C365.48,324.38 365.96,322.68 366.50,321.00 C367.03,319.34 367.56,317.68 368.00,316.00 C368.52,314.02 368.84,311.97 369.40,310.00 C369.88,308.31 370.56,306.68 371.10,305.00 C371.63,303.34 372.24,301.70 372.60,300.00 C373.30,296.70 373.78,293.34 374.30,290.00 C374.82,286.67 375.17,283.32 375.70,280.00 C376.23,276.66 376.93,273.34 377.50,270.00 C378.07,266.67 378.65,263.34 379.10,260.00 C379.55,256.68 379.80,253.33 380.20,250.00 C380.60,246.66 381.08,243.34 381.50,240.00 C381.92,236.67 382.30,233.33 382.70,230.00 C383.10,226.67 383.57,223.34 383.90,220.00 C384.23,216.67 384.51,213.34 384.70,210.00 C385.08,203.34 385.12,196.65 385.60,190.00 C386.08,183.32 386.95,176.67 387.60,170.00 C388.25,163.33 388.97,156.67 389.50,150.00 C390.03,143.34 390.37,136.67 390.80,130.00 C391.40,120.67 391.94,111.33 392.60,102.00 C393.31,92.00 394.17,82.00 394.90,72.00 C395.63,62.00 396.27,52.00 397.00,42.00 C397.73,32.00 398.53,22.00 399.30,12.00" fill="none" stroke="#ff0000" stroke-width="2.4" stroke-linejoin="round"/>
<path d="M82.00,349.20 C84.33,349.17 86.68,349.24 89.00,349.10 C90.01,349.04 90.99,348.61 92.00,348.60 C121.32,348.41 150.67,348.54 180.00,348.50 C203.33,348.47 226.67,348.49 250.00,348.40 C252.00,348.39 254.01,348.38 256.00,348.20 C257.34,348.08 258.65,347.54 260.00,347.50 C266.65,347.31 273.36,347.27 280.00,347.50 C281.03,347.54 281.97,348.28 283.00,348.30 C295.30,348.58 307.67,348.48 320.00,348.40 C323.34,348.38 326.67,348.24 330.00,348.00 C332.67,347.81 335.35,347.48 338.00,347.10 C339.75,346.85 341.51,346.59 343.20,346.10 C344.98,345.59 346.74,344.91 348.40,344.10 C350.21,343.21 351.94,342.14 353.60,341.00 C355.40,339.77 357.16,338.44 358.80,337.00 C360.30,335.68 361.60,334.14 363.00,332.70 C363.87,331.80 364.82,330.97 365.60,330.00 C366.62,328.74 367.52,327.37 368.40,326.00 C369.45,324.37 370.51,322.72 371.40,321.00 C372.24,319.39 372.79,317.63 373.60,316.00 C374.62,313.96 375.85,312.03 376.90,310.00 C377.75,308.36 378.42,306.62 379.30,305.00 C380.22,303.29 381.49,301.76 382.30,300.00 C383.79,296.76 384.97,293.36 386.20,290.00 C387.41,286.69 388.50,283.34 389.60,280.00 C390.70,276.68 391.78,273.35 392.80,270.00 C393.81,266.68 394.81,263.35 395.70,260.00 C396.58,256.69 397.22,253.31 398.10,250.00 C398.99,246.65 399.96,243.31 401.00,240.00 C402.06,236.64 403.27,233.33 404.40,230.00 C405.53,226.67 406.87,223.39 407.80,220.00 C408.70,216.72 409.25,213.34 409.90,210.00 C410.55,206.68 410.96,203.30 411.70,200.00 C412.46,196.63 413.55,193.35 414.40,190.00 C415.25,186.68 415.97,183.33 416.80,180.00 C417.64,176.66 418.44,173.31 419.40,170.00 C420.37,166.64 421.63,163.36 422.60,160.00 C423.56,156.69 424.41,153.35 425.20,150.00 C425.98,146.69 426.70,143.35 427.30,140.00 C427.90,136.68 428.31,133.33 428.80,130.00 C429.04,128.33 429.22,126.66 429.50,125.00 C429.78,123.33 430.09,121.65 430.50,120.00 C431.33,116.65 432.35,113.35 433.20,110.00 C434.05,106.68 434.66,103.29 435.60,100.00 C436.09,98.29 437.16,96.72 437.50,95.00 C437.82,93.39 437.33,91.64 437.60,90.00 C438.16,86.64 439.12,83.31 440.00,80.00 C440.89,76.65 441.96,73.34 442.90,70.00 C443.83,66.68 444.83,63.36 445.60,60.00 C446.20,57.36 446.75,54.69 447.00,52.00 C447.31,48.69 447.08,45.32 447.30,42.00 C447.41,40.32 447.56,38.61 448.00,37.00 C448.46,35.28 449.49,33.71 450.00,32.00 C450.49,30.38 450.60,28.65 451.00,27.00 C451.40,25.32 451.96,23.67 452.40,22.00 C453.26,18.67 454.07,15.33 454.90,12.00" fill="none" stroke="#0b1db4" stroke-width="2.6" stroke-linejoin="round"/>
<g font-size="25" text-anchor="middle"><text transform="translate(63.20,377.7) scale(0.97,1.075)">1.0</text><text transform="translate(123.17,377.7) scale(0.97,1.075)">1.1</text><text transform="translate(183.14,377.7) scale(0.97,1.075)">1.2</text><text transform="translate(243.11,377.7) scale(0.97,1.075)">1.3</text><text transform="translate(303.08,377.7) scale(0.97,1.075)">1.4</text><text transform="translate(363.05,377.7) scale(0.97,1.075)">1.5</text><text transform="translate(423.02,377.7) scale(0.97,1.075)">1.6</text><text transform="translate(482.99,377.7) scale(0.97,1.075)">1.7</text></g>
<g font-size="25" text-anchor="end"><text transform="translate(55.6,357.60) scale(0.985,1.075)">0</text><text transform="translate(55.6,290.26) scale(0.985,1.075)">20</text><text transform="translate(55.6,222.92) scale(0.985,1.075)">40</text><text transform="translate(55.6,155.58) scale(0.985,1.075)">60</text><text transform="translate(55.6,88.24) scale(0.985,1.075)">80</text><text transform="translate(55.6,20.90) scale(0.985,1.075)">100</text></g>
<text x="175.1" y="402.6" font-size="22.6" textLength="77.5" lengthAdjust="spacingAndGlyphs">Potential</text><text x="259.8" y="402.6" font-size="22.6" textLength="111.8" lengthAdjust="spacingAndGlyphs">(V vs. RHE)</text>
<text transform="translate(21.6,300.0) rotate(-90)" font-size="22.7" textLength="138" lengthAdjust="spacingAndGlyphs">Current density</text><text transform="translate(21.6,156.2) rotate(-90) scale(1.02,1)" font-size="22.7">(mA cm<tspan dy="-8.5" font-size="14.5">-2</tspan><tspan dy="8.5">)</tspan></text>
<!-- legend -->
<line x1="186" y1="23.8" x2="229" y2="23.8" stroke="#ff0000" stroke-width="2.2"/>
<line x1="186" y1="51.6" x2="229" y2="51.6" stroke="#0b1db4" stroke-width="2.2"/>
<text x="234.4" y="29.8" font-size="18.8" textLength="61.6" lengthAdjust="spacingAndGlyphs">Co(OH)</text><text x="296.9" y="35.2" font-size="13.5">2</text><text x="303.4" y="30.4" font-size="19">@</text><text x="321.4" y="29.8" font-size="18.5" textLength="72.4" lengthAdjust="spacingAndGlyphs">MIL-88A</text>
<text x="233.7" y="58.7" font-size="18.8" textLength="36.3" lengthAdjust="spacingAndGlyphs">RuO</text><text x="270.5" y="63.5" font-size="13.5">2</text>
</svg>
</body></html>
